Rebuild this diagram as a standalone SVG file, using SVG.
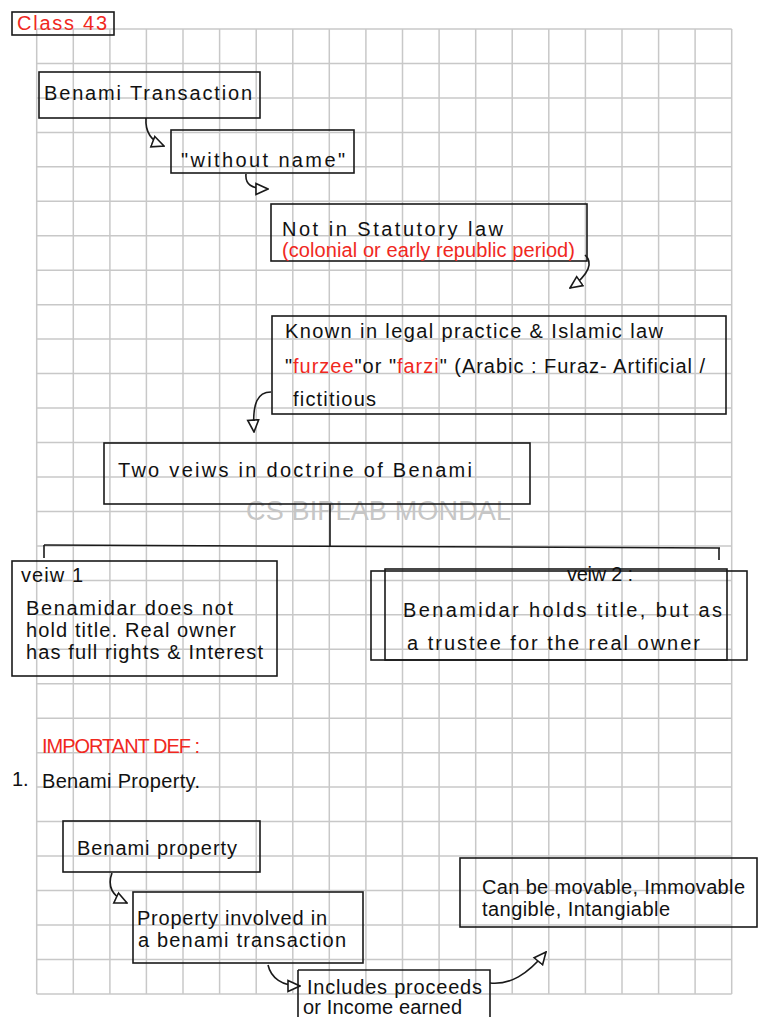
<svg xmlns="http://www.w3.org/2000/svg" width="768" height="1024" viewBox="0 0 768 1024">
<style>
.grid line{stroke:#c8c8c8;stroke-width:1.5}
.box{fill:none;stroke:#1a1a1a;stroke-width:1.6}
.t{font-family:"Liberation Sans",Arial,sans-serif;fill:#111;font-size:20px}
.r{fill:#f0281e}
.conn path{fill:none;stroke:#1a1a1a;stroke-width:1.6}
.wm{font-family:"Liberation Sans",Arial,sans-serif;fill:#c6c6c6;font-size:27px}
</style>
<defs>
<marker id="ah" viewBox="0 0 14 14" refX="13" refY="7" markerWidth="14" markerHeight="14" markerUnits="userSpaceOnUse" orient="auto">
<path d="M1,1.5 L13,7 L1,12.5 Z" fill="#fff" stroke="#1a1a1a" stroke-width="1.6"/>
</marker>
</defs>
<rect width="768" height="1024" fill="#fff"/>
<g class="grid" id="grid">
<line x1="36.7" y1="29" x2="36.7" y2="994"/><line x1="73.3" y1="29" x2="73.3" y2="994"/><line x1="109.9" y1="29" x2="109.9" y2="994"/><line x1="146.4" y1="29" x2="146.4" y2="994"/><line x1="183" y1="29" x2="183" y2="994"/><line x1="219.6" y1="29" x2="219.6" y2="994"/><line x1="256.2" y1="29" x2="256.2" y2="994"/><line x1="292.8" y1="29" x2="292.8" y2="994"/><line x1="329.3" y1="29" x2="329.3" y2="994"/><line x1="365.9" y1="29" x2="365.9" y2="994"/><line x1="402.5" y1="29" x2="402.5" y2="994"/><line x1="439.1" y1="29" x2="439.1" y2="994"/><line x1="475.7" y1="29" x2="475.7" y2="994"/><line x1="512.2" y1="29" x2="512.2" y2="994"/><line x1="548.8" y1="29" x2="548.8" y2="994"/><line x1="585.4" y1="29" x2="585.4" y2="994"/><line x1="622" y1="29" x2="622" y2="994"/><line x1="658.6" y1="29" x2="658.6" y2="994"/><line x1="695.1" y1="29" x2="695.1" y2="994"/><line x1="731.7" y1="29" x2="731.7" y2="994"/>
<line x1="36.7" y1="29" x2="731.7" y2="29"/><line x1="36.7" y1="63.5" x2="731.7" y2="63.5"/><line x1="36.7" y1="97.9" x2="731.7" y2="97.9"/><line x1="36.7" y1="132.4" x2="731.7" y2="132.4"/><line x1="36.7" y1="166.8" x2="731.7" y2="166.8"/><line x1="36.7" y1="201.3" x2="731.7" y2="201.3"/><line x1="36.7" y1="235.8" x2="731.7" y2="235.8"/><line x1="36.7" y1="270.2" x2="731.7" y2="270.2"/><line x1="36.7" y1="304.7" x2="731.7" y2="304.7"/><line x1="36.7" y1="339.1" x2="731.7" y2="339.1"/><line x1="36.7" y1="373.6" x2="731.7" y2="373.6"/><line x1="36.7" y1="408.1" x2="731.7" y2="408.1"/><line x1="36.7" y1="442.5" x2="731.7" y2="442.5"/><line x1="36.7" y1="477" x2="731.7" y2="477"/><line x1="36.7" y1="511.4" x2="731.7" y2="511.4"/><line x1="36.7" y1="545.9" x2="731.7" y2="545.9"/><line x1="36.7" y1="580.4" x2="731.7" y2="580.4"/><line x1="36.7" y1="614.8" x2="731.7" y2="614.8"/><line x1="36.7" y1="649.3" x2="731.7" y2="649.3"/><line x1="36.7" y1="683.7" x2="731.7" y2="683.7"/><line x1="36.7" y1="718.2" x2="731.7" y2="718.2"/><line x1="36.7" y1="752.7" x2="731.7" y2="752.7"/><line x1="36.7" y1="787.1" x2="731.7" y2="787.1"/><line x1="36.7" y1="821.6" x2="731.7" y2="821.6"/><line x1="36.7" y1="856" x2="731.7" y2="856"/><line x1="36.7" y1="890.5" x2="731.7" y2="890.5"/><line x1="36.7" y1="925" x2="731.7" y2="925"/><line x1="36.7" y1="959.4" x2="731.7" y2="959.4"/><line x1="36.7" y1="993.9" x2="731.7" y2="993.9"/>
</g>
<text class="wm" x="246" y="520" textLength="265">CS BIPLAB MONDAL</text>
<g class="conn" id="connectors">
<path d="M146,118 C145,132 151,141 164,146" marker-end="url(#ah)"/>
<path d="M246,174 C245,184 251,189 268,189" marker-end="url(#ah)"/>
<path d="M585,255 C593,262 590,274 570,288" marker-end="url(#ah)"/>
<path d="M271,392 C258,392 252,402 254,432" marker-end="url(#ah)"/>
<path d="M330,504 L330,547"/>
<path d="M44,545 L720,548"/>
<path d="M44,545 L44,558"/>
<path d="M719,548 L719,560"/>
<path d="M112,873 C107,886 112,896 127,903" marker-end="url(#ah)"/>
<path d="M268,965 C271,978 282,986 300,986" marker-end="url(#ah)"/>
<path d="M490,983 C510,985 527,975 546,952" marker-end="url(#ah)"/>
</g>
<g id="class43">
<rect class="box" x="12" y="12" width="102" height="23"/>
<text class="t r" x="17" y="30" font-size="18" textLength="90">Class 43</text>
</g>
<g id="benami-transaction">
<rect class="box" x="39" y="72" width="221" height="46"/>
<text class="t" x="44" y="100" font-size="22" textLength="208">Benami Transaction</text>
</g>
<g id="without-name">
<rect class="box" x="171" y="130" width="183" height="43"/>
<text class="t" x="181" y="167" font-size="22" textLength="164">"without name"</text>
</g>
<g id="statutory">
<rect class="box" x="271" y="204" width="316" height="57"/>
<text class="t" x="282" y="236" font-size="21" textLength="221">Not in Statutory law</text>
<text class="t r" x="282" y="257" font-size="17" textLength="293">(colonial or early republic period)</text>
</g>
<g id="known">
<rect class="box" x="272" y="316" width="454" height="98"/>
<text class="t" x="285" y="338" textLength="378">Known in legal practice &amp; Islamic law</text>
<text class="t" x="285" y="373" font-size="19" textLength="420">"<tspan class="r">furzee</tspan>"or "<tspan class="r">farzi</tspan>" (Arabic : Furaz- Artificial /</text>
<text class="t" x="293" y="406" textLength="83">fictitious</text>
</g>
<g id="two-views">
<rect class="box" x="104" y="443" width="426" height="61"/>
<text class="t" x="118" y="477" font-size="22" textLength="354">Two veiws in doctrine of Benami</text>
</g>
<g id="view1">
<rect class="box" x="12" y="561" width="265" height="115"/>
<text class="t" x="21" y="582" textLength="62">veiw 1</text>
<text class="t" x="26" y="615" font-size="21" textLength="207">Benamidar does not</text>
<text class="t" x="26" y="637" font-size="21" textLength="210">hold title. Real owner</text>
<text class="t" x="26" y="659" font-size="21" textLength="237">has full rights &amp; Interest</text>
</g>
<g id="view2">
<rect class="box" x="371" y="571" width="376" height="89"/>
<rect class="box" x="385" y="569" width="342" height="91"/>
<text class="t" x="567" y="581" textLength="66">veiw 2 :</text>
<text class="t" x="403" y="617" font-size="21" textLength="319">Benamidar holds title, but as</text>
<text class="t" x="407" y="650" font-size="21" textLength="293">a trustee  for the real owner</text>
</g>
<g id="important">
<text class="t r" x="42" y="753" font-size="18" textLength="158">IMPORTANT DEF :</text>
<text class="t" x="12" y="786">1.</text>
<text class="t" x="42" y="788" font-size="21" textLength="158">Benami Property.</text>
</g>
<g id="benami-property">
<rect class="box" x="63" y="821" width="197" height="51"/>
<text class="t" x="77" y="855" font-size="22" textLength="160">Benami property</text>
</g>
<g id="property-involved">
<rect class="box" x="133" y="892" width="230" height="71"/>
<text class="t" x="137" y="925" font-size="21" textLength="190">Property involved in</text>
<text class="t" x="138" y="947" font-size="21" textLength="208">a benami transaction</text>
</g>
<g id="includes">
<path class="box" d="M298,970 L298,1017 M298,970 L490,970 L490,1017"/>
<text class="t" x="307" y="994" font-size="19" textLength="175">Includes proceeds</text>
<text class="t" x="303" y="1014" font-size="15" textLength="159">or Income earned</text>
</g>
<g id="movable">
<rect class="box" x="460" y="858" width="297" height="69"/>
<text class="t" x="482" y="894" font-size="21" textLength="263">Can be movable, Immovable</text>
<text class="t" x="482" y="916" font-size="21" textLength="188">tangible, Intangiable</text>
</g>
</svg>
